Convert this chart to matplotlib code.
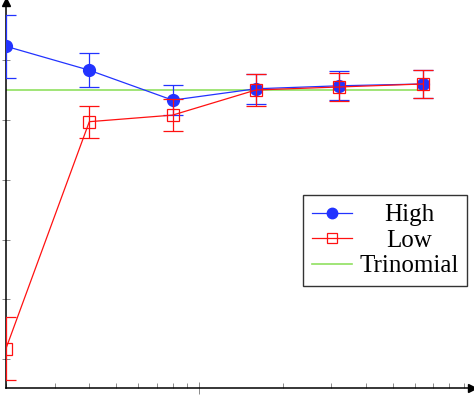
import numpy as np
import matplotlib
matplotlib.use("Agg")
import matplotlib.pyplot as plt
from matplotlib.lines import Line2D
from matplotlib.ticker import LogLocator, NullFormatter, FixedLocator

# data (y axis has no labels, units are arbitrary)
sizes = [2, 4, 8, 16, 32, 64]
high = [1.023, 0.983, 0.933, 0.952, 0.957, 0.960]
high_err = [0.053, 0.028, 0.025, 0.025, 0.024, 0.024]
low = [0.518, 0.897, 0.908, 0.950, 0.955, 0.960]
low_err = [0.052, 0.027, 0.027, 0.026, 0.024, 0.024]
trinomial = [0.950] * len(sizes)
y_ticks = [0.5, 0.6, 0.7, 0.8, 0.9, 1.0]

BLUE = "#2233ff"
RED = "#ff1111"
GREEN = "#90e060"

plt.rcParams["font.family"] = ["Liberation Serif", "DejaVu Serif"]

fig = plt.figure(figsize=(4.74, 3.95), dpi=100)
ax = fig.add_axes([6 / 474, 7 / 395, 464 / 474, 386 / 395])

ax.errorbar(sizes, high, yerr=high_err, color=BLUE, marker="o", ms=8.5,
            lw=0.9, elinewidth=0.9, capsize=7, capthick=0.9, zorder=3)
ax.errorbar(sizes, low, yerr=low_err, color=RED, marker="s", ms=8.5,
            mfc="none", mew=0.9, lw=0.9, elinewidth=0.9, capsize=7, capthick=0.9,
            zorder=4)
ax.plot(sizes, trinomial, color=GREEN, lw=1.2, zorder=2)

ax.set_xscale("log")
ax.set_xlim(2, 95)
ax.set_ylim(0.452, 1.097)

ax.xaxis.set_major_locator(FixedLocator([10]))
ax.xaxis.set_minor_locator(LogLocator(base=10, subs=np.arange(2, 10)))
ax.xaxis.set_major_formatter(NullFormatter())
ax.xaxis.set_minor_formatter(NullFormatter())
ax.yaxis.set_major_locator(FixedLocator(y_ticks))
ax.yaxis.set_major_formatter(NullFormatter())
ax.tick_params(axis="x", which="major", direction="inout", length=8, width=0.6, color="#777777")
ax.tick_params(axis="x", which="minor", direction="in", length=3.5, width=0.6, color="#777777")
ax.tick_params(axis="y", which="major", direction="inout", length=6, width=0.6, color="#777777")

for side in ("top", "right"):
    ax.spines[side].set_visible(False)
for side in ("left", "bottom"):
    ax.spines[side].set_linewidth(1.1)

# axis arrows
ax.plot(1.005, 0, marker=">", ms=6, color="black", transform=ax.transAxes, clip_on=False)
ax.plot(0, 1.0, marker="^", ms=6, color="black", transform=ax.transAxes, clip_on=False)

handles = [
    Line2D([], [], color=BLUE, lw=0.9, marker="o", ms=7.5),
    Line2D([], [], color=RED, lw=0.9, marker="s", ms=7, mfc="none", mew=0.9),
    Line2D([], [], color=GREEN, lw=1.2),
]
leg = ax.legend(handles, ["High", "Low", "Trinomial"], loc="upper left",
                bbox_to_anchor=(0.64, 0.5), fontsize=18, frameon=True,
                fancybox=False, edgecolor="black", handlelength=1.6,
                handletextpad=0.3, borderpad=0.35, labelspacing=0.12,
                borderaxespad=0)
leg.get_frame().set_linewidth(1.0)

# centre the labels like pgfplots does
fig.canvas.draw()
r = fig.canvas.get_renderer()
widths = [t.get_window_extent(r).width for t in leg.get_texts()]
for t, w in zip(leg.get_texts(), widths):
    t.set_x((max(widths) - w) / 2)

fig.savefig("out.png", dpi=100)
